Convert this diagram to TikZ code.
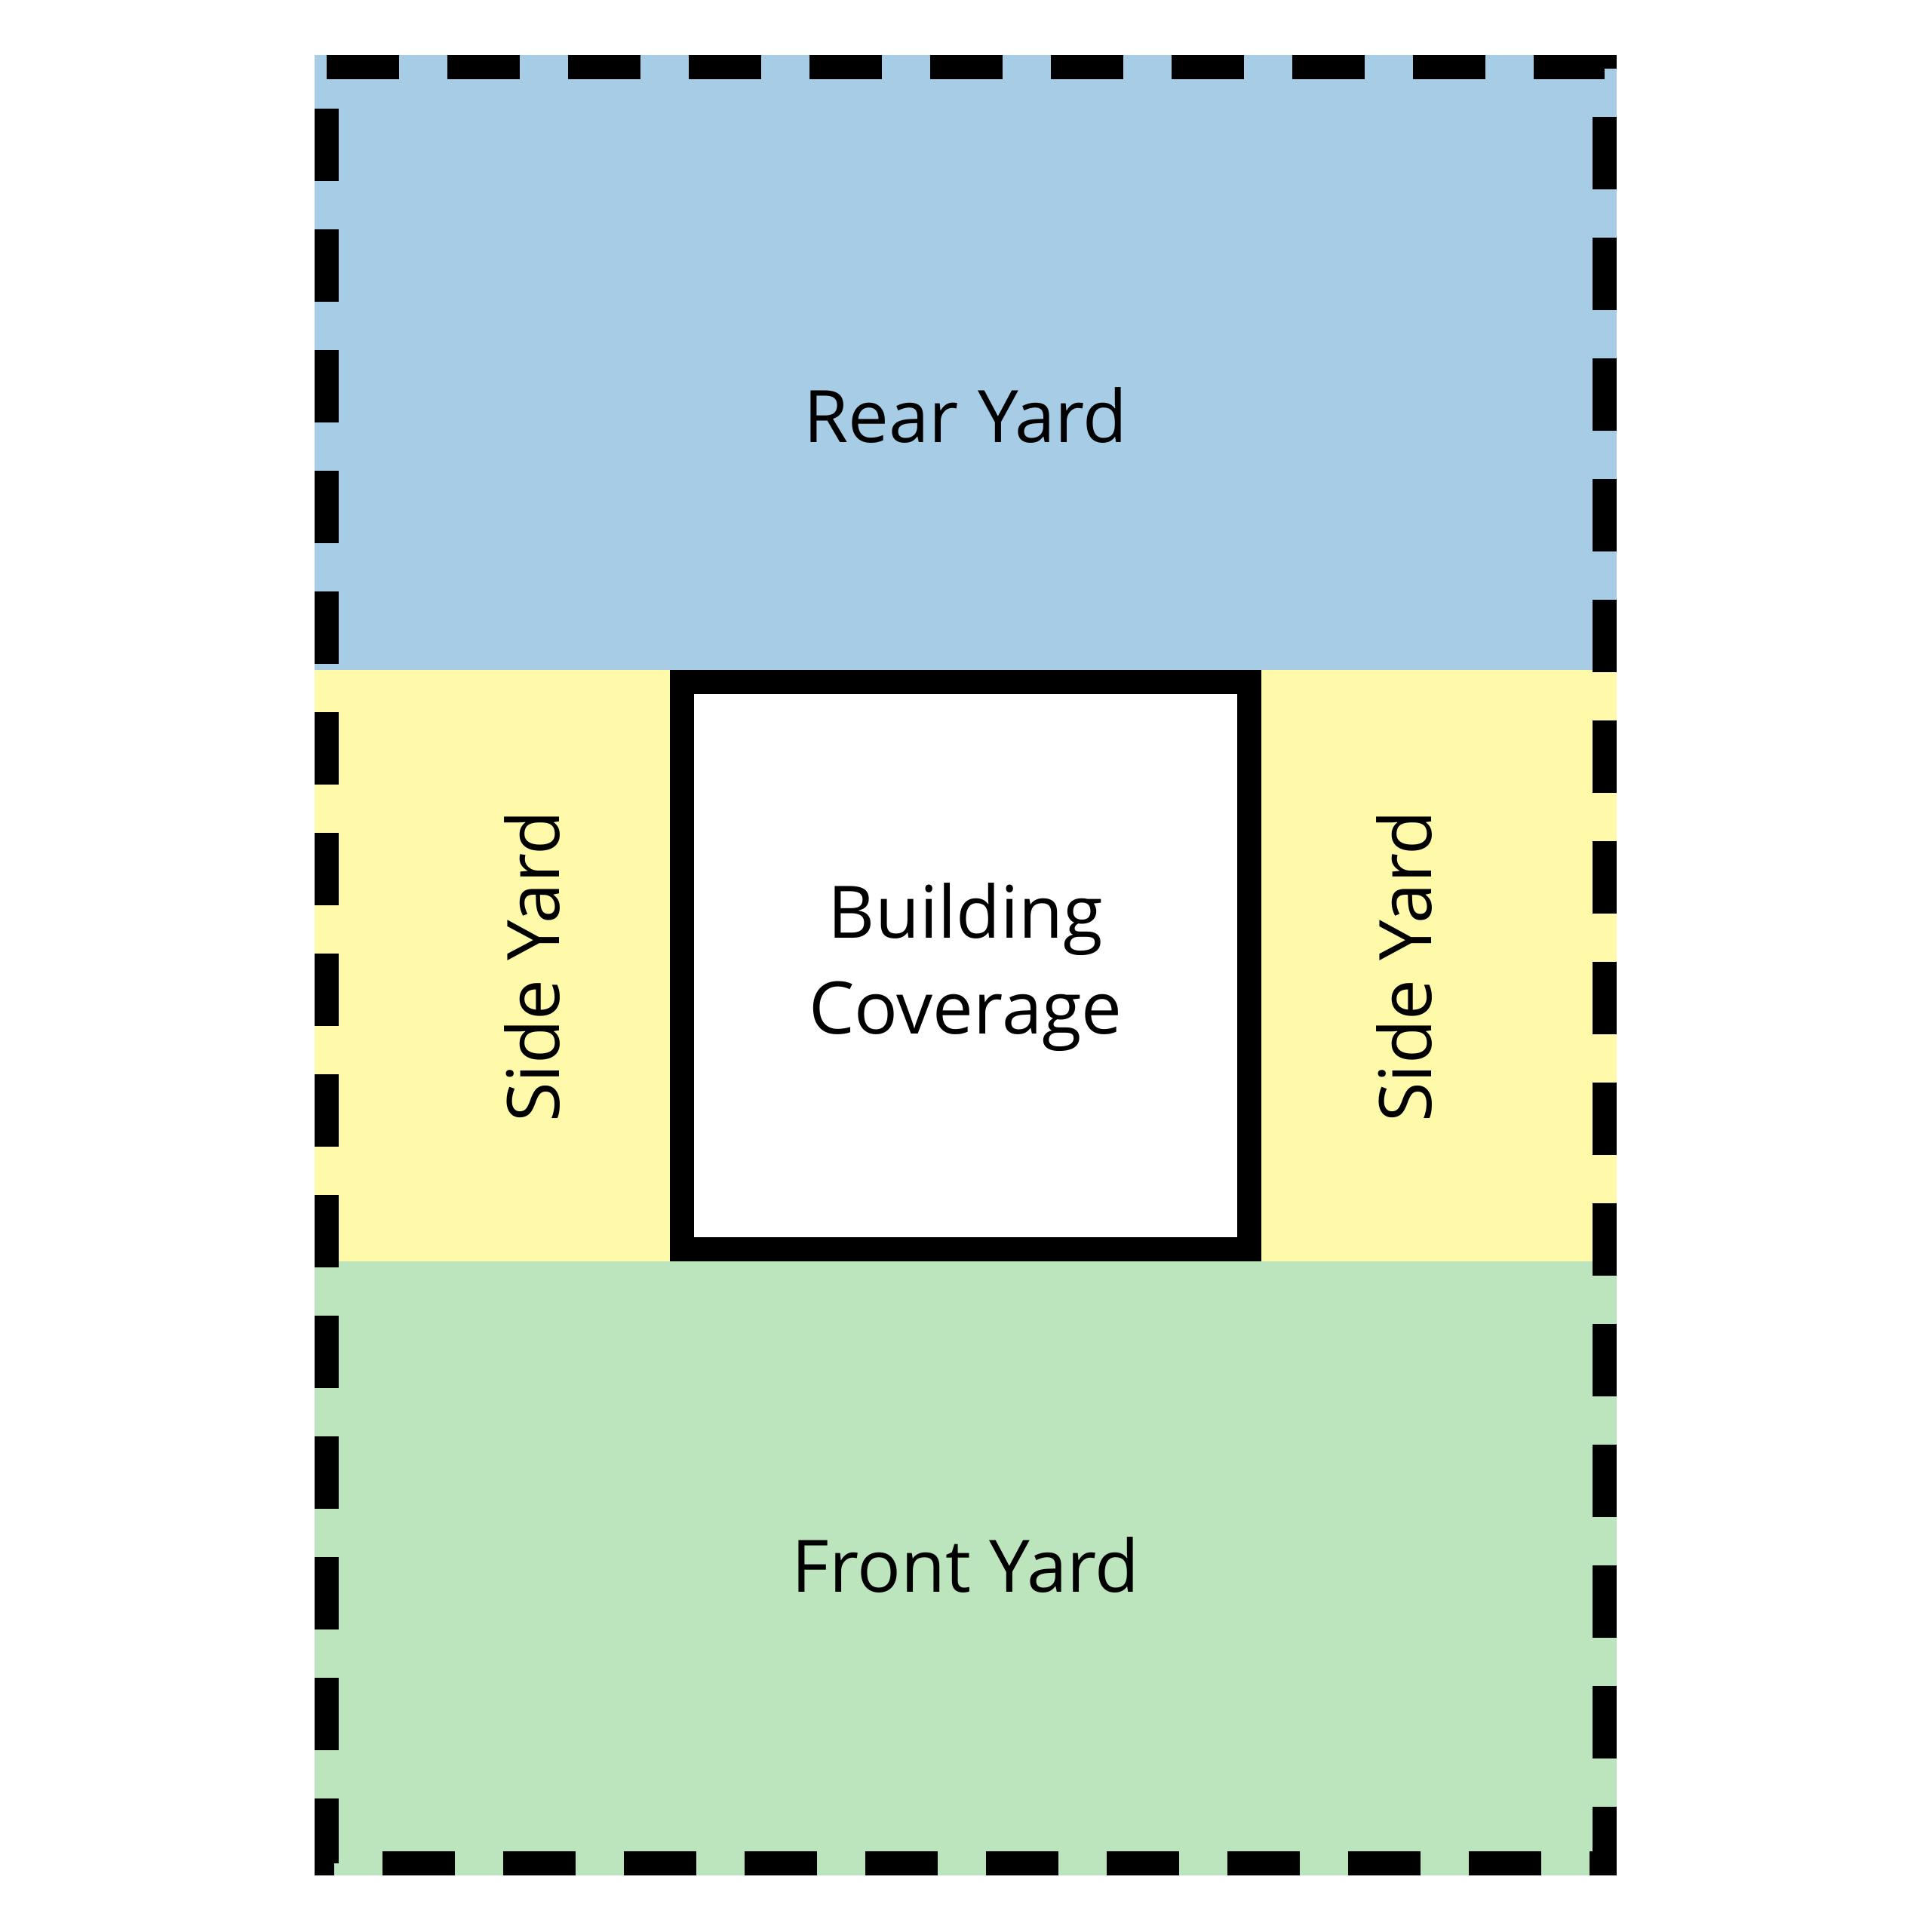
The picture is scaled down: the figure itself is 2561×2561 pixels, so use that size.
\documentclass[tikz,border=0pt]{standalone}
\usepackage{fontspec}
\setmainfont{Open Sans}
\definecolor{rearblue}{HTML}{A6CCE6}
\definecolor{sideyellow}{HTML}{FFF9AA}
\definecolor{frontgreen}{HTML}{BCE4BD}
\begin{document}
\begin{tikzpicture}[x=0.25pt,y=-0.25pt,
  lbl/.style={font=\fontsize{24}{28.8}\selectfont, inner sep=0pt, anchor=base, text=black},
  lotline/.style={line width=8pt, dash pattern=on 24pt off 16pt, line join=miter, line cap=butt},
  bldg/.style={line width=8pt, draw=black, fill=white}]
\useasboundingbox (0,0) rectangle (2561,2561);
\fill[white] (0,0) rectangle (2561,2561);
% yards
\fill[rearblue] (416.7,73.3) rectangle (2143.3,887.9);
\fill[sideyellow] (416.7,887.9) rectangle (887.9,1672);
\fill[sideyellow] (1672,887.9) rectangle (2143.3,1672);
\fill[frontgreen] (416.7,1672) rectangle (2143.3,2486);
% building
\draw[bldg] (903.9,903.9) rectangle (1656,1656);
% lot line
\coordinate (tl) at (432.7,89.3);
\coordinate (tr) at (2127.3,89.3);
\coordinate (br) at (2127.3,2470);
\coordinate (bl) at (432.7,2470);
\draw[lotline] (tl) -- (tr) -- (br) -- (bl) -- cycle;
% labels
\node[lbl] (rear) at (1280,586) {Rear Yard};
\node[lbl] (front) at (1280,2110.7) {Front Yard};
\node[lbl] (b1) at (1280,1243.2) {Building};
\node[lbl] (b2) at (1280,1370.6) {Coverage};
\node[lbl, rotate=90] (sl) at (741.7,1281.3) {Side Yard};
\node[lbl, rotate=90] (sr) at (1897.7,1281.3) {Side Yard};
\end{tikzpicture}
\end{document}
